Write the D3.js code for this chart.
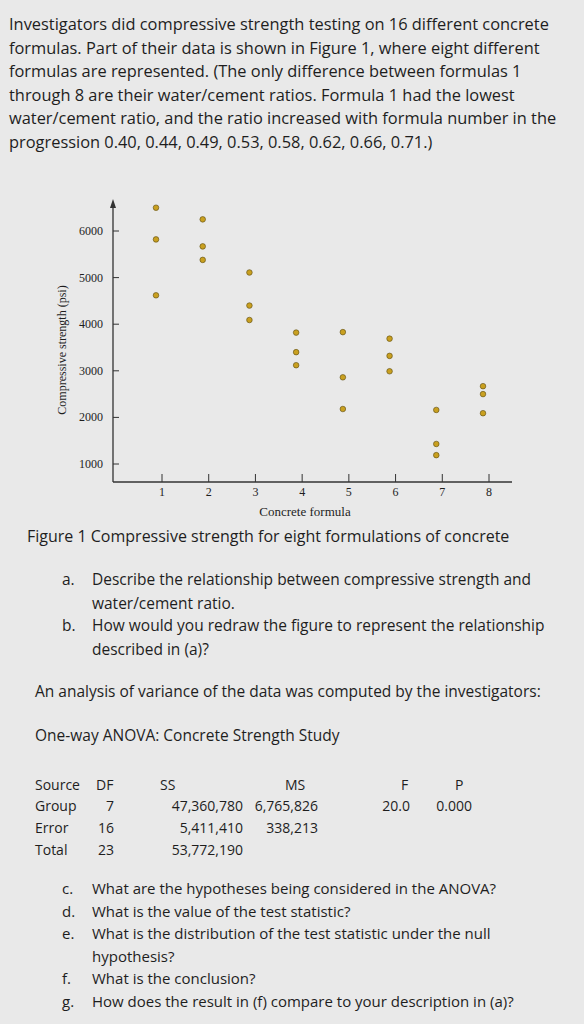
<!DOCTYPE html>
<html><head><meta charset="utf-8">
<script src="https://cdn.jsdelivr.net/npm/d3@7"></script>
<style>body{margin:0;background:#e9e9e9}svg{display:block}</style>
</head><body>
<script>
// data: three specimens per formula
const formulas = [1, 2, 3, 4, 5, 6, 7, 8];
const strength = [
    [6500, 5820, 4620],
    [6250, 5670, 5380],
    [5110, 4400, 4090],
    [3820, 3400, 3120],
    [3830, 2860, 2180],
    [3690, 3320, 2990],
    [2160, 1430, 1190],
    [2670, 2500, 2090]
];
const yTicks = [1000, 2000, 3000, 4000, 5000, 6000];

const introLines = [
    "Investigators did compressive strength testing on 16 different concrete",
    "formulas. Part of their data is shown in Figure 1, where eight different",
    "formulas are represented. (The only difference between formulas 1",
    "through 8 are their water/cement ratios. Formula 1 had the lowest",
    "water/cement ratio, and the ratio increased with formula number in the",
    "progression 0.40, 0.44, 0.49, 0.53, 0.58, 0.62, 0.66, 0.71.)"
];
const anovaHeader = ["Source", "DF", "SS", "MS", "F", "P"];
const anovaRows = [
    ["Group", "7", "47,360,780", "6,765,826", "20.0", "0.000"],
    ["Error", "16", "5,411,410", "338,213", "", ""],
    ["Total", "23", "53,772,190", "", "", ""]
];

const svg = d3.select("body").append("svg").attr("width", 584).attr("height", 1024);
const sans = "'Open Sans', sans-serif", serif = "'Liberation Serif', serif";
const ink = "#1e1e1e";

function line(x, y, t, size, anchor) {
    svg.append("text").attr("x", x).attr("y", y).attr("font-family", sans)
        .attr("font-size", size || 16).attr("fill", ink)
        .attr("text-anchor", anchor || "start").text(t);
}

introLines.forEach((t, i) => line(9, 30 + i * 23.5, t, 16.4));

// scatter chart
const x = d3.scaleLinear().domain([1, 8]).range([162, 489]);
const y = d3.scaleLinear().domain([1000, 6000]).range([464, 231]);
const g = svg.append("g").attr("font-family", serif).attr("fill", ink);

g.append("line").attr("x1", 113).attr("x2", 113).attr("y1", 203).attr("y2", 482).attr("stroke", "#333").attr("stroke-width", 1.3);
g.append("path").attr("d", "M113,199 L110,208 L116,208 Z").attr("fill", "#333");
g.append("line").attr("x1", 113).attr("x2", 512).attr("y1", 482).attr("y2", 482).attr("stroke", "#333").attr("stroke-width", 1.3);

yTicks.forEach(v => {
    g.append("line").attr("x1", 113).attr("x2", 119).attr("y1", y(v)).attr("y2", y(v)).attr("stroke", "#333");
    g.append("text").attr("x", 103).attr("y", y(v) + 4).attr("text-anchor", "end").attr("font-size", 12).text(v);
});
formulas.forEach(f => {
    g.append("line").attr("x1", x(f)).attr("x2", x(f)).attr("y1", 474).attr("y2", 482).attr("stroke", "#333");
    g.append("text").attr("x", x(f)).attr("y", 496).attr("text-anchor", "middle").attr("font-size", 12).text(f);
});
g.append("text").attr("x", 305).attr("y", 516).attr("text-anchor", "middle").attr("font-size", 13).text("Concrete formula");
g.append("text").attr("transform", "translate(66,350) rotate(-90)").attr("text-anchor", "middle").attr("font-size", 12).text("Compressive strength (psi)");

formulas.forEach((f, i) => {
    strength[i].forEach(v => {
        g.append("circle").attr("cx", x(f) - 6).attr("cy", y(v)).attr("r", 2.8).attr("fill", "#c9a020").attr("stroke", "#5a4a10").attr("stroke-width", 0.6);
    });
});

line(27, 542, "Figure 1 Compressive strength for eight formulations of concrete", 16);

line(62, 585, "a.", 15.5); line(92, 585, "Describe the relationship between compressive strength and", 15.5);
line(92, 609, "water/cement ratio.", 15.5);
line(62, 631, "b.", 15.5); line(92, 631, "How would you redraw the figure to represent the relationship", 15.5);
line(92, 655, "described in (a)?", 15.5);

line(35, 697, "An analysis of variance of the data was computed by the investigators:", 15.5);
line(35, 741, "One-way ANOVA: Concrete Strength Study", 15.5);

const colX = [35, 114, 160, 318, 410, 472];
const colAnchor = ["start", "end", "start", "end", "end", "end"];
const headX = [35, 96, 160, 285, 401, 455];
anovaHeader.forEach((h, j) => line(headX[j], 790, h, 14));
anovaRows.forEach((r, i) => r.forEach((c, j) => {
    if (j === 2) line(243, 811 + i * 22, c, 14, "end");
    else line(colX[j], 811 + i * 22, c, 14, colAnchor[j]);
}));

const tail = [
    ["c.", "What are the hypotheses being considered in the ANOVA?"],
    ["d.", "What is the value of the test statistic?"],
    ["e.", "What is the distribution of the test statistic under the null"],
    ["", "hypothesis?"],
    ["f.", "What is the conclusion?"],
    ["g.", "How does the result in (f) compare to your description in (a)?"]
];
tail.forEach((r, i) => {
    const yy = 894 + i * 22.5;
    line(62, yy, r[0], 15);
    line(92, yy, r[1], 15);
});
</script>
</body></html>
